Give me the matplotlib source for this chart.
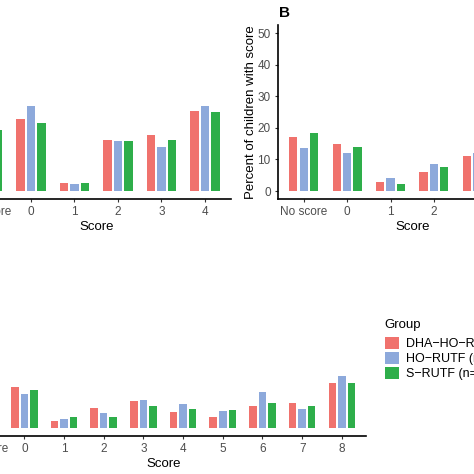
import matplotlib
matplotlib.use("Agg")
import matplotlib.pyplot as plt
from matplotlib.patches import Patch
import numpy as np

plt.rcParams['font.family'] = ['Liberation Sans', 'DejaVu Sans']

groups = ["DHA\u2212HO\u2212RUTF (n=48)", "HO\u2212RUTF (n=47)", "S\u2212RUTF (n=46)"]
colors = ["#F0726D", "#8DA9DB", "#2EAE4A"]

cats_A = ["No score", "0", "1", "2", "3", "4"]
A_dha = [17.0, 22.8, 2.6, 16.2, 17.7, 25.5]
A_ho = [14.5, 27.0, 2.2, 16.0, 14.1, 27.0]
A_s = [19.4, 21.7, 2.6, 15.9, 16.2, 25.1]

cats_B = ["No score", "0", "1", "2", "3", "4"]
B_dha = [17.2, 15.0, 2.9, 6.0, 11.2, 47.0]
B_ho = [13.7, 12.2, 4.0, 8.7, 12.0, 49.0]
B_s = [18.5, 14.0, 2.1, 7.5, 10.5, 47.0]

cats_C = ["No score", "0", "1", "2", "3", "4", "5", "6", "7", "8"]
C_dha = [18.0, 13.1, 2.1, 6.3, 8.6, 5.0, 3.5, 6.9, 8.0, 14.3]
C_ho = [14.0, 10.8, 2.9, 4.8, 9.0, 7.7, 5.3, 11.4, 6.1, 16.6]
C_s = [19.0, 12.0, 3.4, 3.4, 7.1, 6.0, 5.6, 8.1, 7.0, 14.3]

W = H = 474.0
fig = plt.figure(figsize=(4.74, 4.74), dpi=100)


def px_axes(left, right, top, bottom):
    return fig.add_axes([left / W, 1 - bottom / H, (right - left) / W, (bottom - top) / H])


def draw_panel(ax, cats, series, show_y=True):
    x = np.arange(len(cats))
    offs = [-0.24, 0.0, 0.24]
    for vals, c, o in zip(series, colors, offs):
        ax.bar(x + o, vals, width=0.19, color=c, edgecolor='none')
    ax.set_xticks(x)
    ax.set_xticklabels(cats)
    ax.set_xlim(-0.6, len(cats) - 0.4)
    ax.set_ylim(-2.5, 52.5)
    ax.set_yticks([0, 10, 20, 30, 40, 50])
    for s in ['top', 'right']:
        ax.spines[s].set_visible(False)
    for s in ['left', 'bottom']:
        ax.spines[s].set_linewidth(1.2)
        ax.spines[s].set_color('black')
    ax.tick_params(axis='both', length=2.5, width=0.8, color='#333333',
                   labelsize=8.5, labelcolor='#4D4D4D', pad=2.5)
    if not show_y:
        ax.tick_params(axis='y', labelleft=False)
    ax.set_xlabel("Score", fontsize=9.5, labelpad=2)


axA = px_axes(-38.6, 231.1, 25.4, 198.9)
draw_panel(axA, cats_A, [A_dha, A_ho, A_s], show_y=False)

axB = px_axes(277.7, 546.8, 25.4, 198.9)
draw_panel(axB, cats_B, [B_dha, B_ho, B_s])
axB.set_ylabel("Percent of children with score", fontsize=9.5, labelpad=0.5)

axC = px_axes(-39.2, 365.7, 262.4, 436.0)
draw_panel(axC, cats_C, [C_dha, C_ho, C_s], show_y=False)

fig.text(279 / W, 1 - 13 / H, "B", fontsize=11, fontweight='bold', ha='left', va='center')

handles = [Patch(facecolor=c, edgecolor='none') for c in colors]
leg = fig.legend(handles, groups, title="Group", loc='upper left',
                 bbox_to_anchor=(381 / W, 1 - 315 / H), frameon=False,
                 fontsize=9, title_fontsize=9.5, handlelength=1.1, handleheight=1.1,
                 handletextpad=0.6, labelspacing=0.12, borderaxespad=0, borderpad=0.3)
leg._legend_box.align = "left"
leg._legend_box.sep = 4.5

fig.savefig("out.png", dpi=100)
